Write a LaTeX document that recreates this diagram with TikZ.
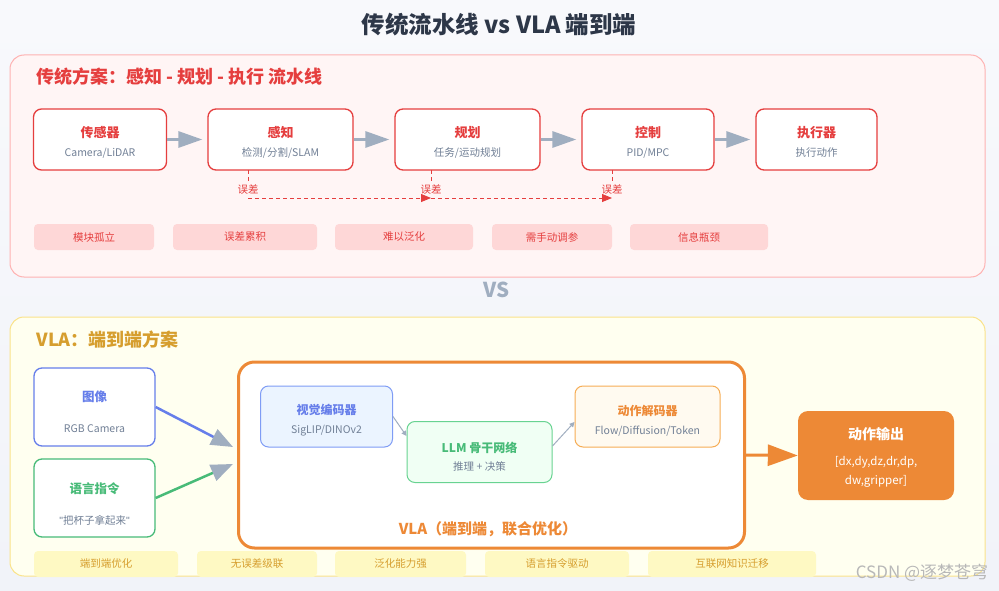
\documentclass[tikz,border=0pt]{standalone}
\usepackage{fontspec}
\setmainfont{Noto Sans CJK SC}
\newfontfamily\quotefont{Liberation Sans}
\usetikzlibrary{arrows.meta}
\definecolor{bgtop}{HTML}{F8F9FC}
\definecolor{bgbot}{HTML}{F1F3F9}
\definecolor{titlegrey}{HTML}{2D3748}
\definecolor{subgrey}{HTML}{718096}
\definecolor{arrowgrey}{HTML}{A0AEC0}
\definecolor{tradred}{HTML}{E53E3E}
\definecolor{tradfill}{HTML}{FFF5F5}
\definecolor{tradborder}{HTML}{FEB2B2}
\definecolor{tagpink}{HTML}{FED7D7}
\definecolor{vlafill}{HTML}{FFFFF0}
\definecolor{vlaborder}{HTML}{FAE38A}
\definecolor{taggold}{HTML}{FEF9C3}
\definecolor{goldtext}{HTML}{D69E2E}
\definecolor{imgblue}{HTML}{667EEA}
\definecolor{encfill}{HTML}{EBF4FF}
\definecolor{encborder}{HTML}{7F9CF5}
\definecolor{langgreen}{HTML}{48BB78}
\definecolor{llmfill}{HTML}{F0FFF4}
\definecolor{llmborder}{HTML}{68D391}
\definecolor{vlaorange}{HTML}{ED8936}
\definecolor{decfill}{HTML}{FFFAF0}
\definecolor{decborder}{HTML}{F6AD55}
% strut that pushes a two-line block down
\newcommand{\topstrut}[1]{\rule{0pt}{#1}}

\begin{document}
\begin{tikzpicture}[x=1pt,y=-1pt]
  \tikzstyle{stage}=[draw=tradred,line width=1.3pt,fill=white,rounded corners=8pt,
                     minimum height=61pt,align=center,inner sep=0pt,text=tradred,
                     font=\fontsize{10.5}{19}\selectfont]
  \tikzstyle{tradtag}=[fill=tagpink,rounded corners=4pt,minimum height=26pt,inner sep=0pt,
                       text=tradred,font=\fontsize{10.5}{12}\selectfont]
  \tikzstyle{vlatag}=[fill=taggold,rounded corners=4pt,minimum height=26pt,inner sep=0pt,
                      text=goldtext,font=\fontsize{10.5}{12}\selectfont]
  \tikzstyle{inbox}=[line width=1.3pt,fill=white,rounded corners=8pt,minimum width=121pt,
                     minimum height=78pt,align=center,inner sep=0pt,font=\fontsize{10.5}{31}\selectfont]
  \tikzstyle{module}=[line width=1pt,rounded corners=8pt,minimum height=61pt,align=center,
                      inner sep=0pt,font=\fontsize{10.5}{18.5}\selectfont]
  \tikzstyle{flowarrow}=[draw=arrowgrey,line width=3pt,-{Triangle[length=24pt,width=16pt]},shorten >=5pt]
  \tikzstyle{errline}=[draw=tradred,line width=1pt,dash pattern=on 4pt off 3pt]
  \tikzstyle{errlabel}=[text=tradred,font=\fontsize{10.5}{12}\selectfont,inner sep=1pt]
  \tikzstyle{thinarrow}=[draw=arrowgrey,line width=1pt,-{Triangle[length=5pt,width=5pt]}]
  \useasboundingbox (0,0) rectangle (999,591);
  \shade[top color=bgtop,bottom color=bgbot] (0,0) rectangle (999,591);
  % title
  \node[text=titlegrey,font=\fontsize{23.5}{26}\selectfont\bfseries] (title) at (499,25) {传统流水线 vs VLA 端到端};
  % traditional pipeline
  \draw[draw=tradborder,fill=tradfill,line width=1pt,rounded corners=14pt] (10,55) rectangle (985,277);
  \node[anchor=west,text=tradred,font=\fontsize{18}{21}\selectfont\bfseries] (tradtitle) at (33,77) {传统方案：感知 - 规划 - 执行 流水线};
  \node[stage,minimum width=133pt] (sensor) at (100,139.5) {{\fontsize{13}{19}\selectfont\bfseries\topstrut{16.5pt}传感器}\\{\color{subgrey}Camera/LiDAR}};
  \node[stage,minimum width=145pt] (perception) at (280.5,139.5) {{\fontsize{13}{19}\selectfont\bfseries\topstrut{16.5pt}感知}\\{\color{subgrey}检测/分割/SLAM}};
  \node[stage,minimum width=145pt] (planning) at (467.5,139.5) {{\fontsize{13}{19}\selectfont\bfseries\topstrut{16.5pt}规划}\\{\color{subgrey}任务/运动规划}};
  \node[stage,minimum width=132pt] (control) at (648,139.5) {{\fontsize{13}{19}\selectfont\bfseries\topstrut{16.5pt}控制}\\{\color{subgrey}PID/MPC}};
  \node[stage,minimum width=121pt] (actuator) at (816.5,139.5) {{\fontsize{13}{19}\selectfont\bfseries\topstrut{16.5pt}执行器}\\{\color{subgrey}执行动作}};
  \draw[flowarrow] (sensor) -- (perception);
  \draw[flowarrow] (perception) -- (planning);
  \draw[flowarrow] (planning) -- (control);
  \draw[flowarrow] (control) -- (actuator);
  % error propagation
  \node[errlabel] (err1) at (248,190) {误差};
  \node[errlabel] (err2) at (431,190) {误差};
  \node[errlabel] (err3) at (612,190) {误差};
  \coordinate (errtop1) at (248,170);
  \coordinate (errtop2) at (431,170);
  \coordinate (errtop3) at (612,170);
  \coordinate (errbase1) at (248,198);
  \coordinate (errbase2) at (431,198);
  \coordinate (errbase3) at (612,198);
  \draw[errline] (errtop1) -- (err1.north);
  \draw[errline] (errtop2) -- (err2.north);
  \draw[errline] (errtop3) -- (err3.north);
  \draw[errline,-{Triangle[length=10pt,width=8pt]}] (errbase1) -- (errbase2);
  \draw[errline,-{Triangle[length=10pt,width=8pt]}] (errbase2) -- (errbase3);
  % drawbacks
  \node[tradtag,minimum width=120pt] (isolated) at (94,237) {模块孤立};
  \node[tradtag,minimum width=144pt] (accumulate) at (245,237) {误差累积};
  \node[tradtag,minimum width=138pt] (general) at (404,237) {难以泛化};
  \node[tradtag,minimum width=120pt] (tuning) at (552,237) {需手动调参};
  \node[tradtag,minimum width=138pt] (bottleneck) at (699,237) {信息瓶颈};
  \node[text=arrowgrey,font=\fontsize{20.5}{23}\selectfont\bfseries] (versus) at (497,290) {VS};
  % VLA end to end
  \draw[draw=vlaborder,fill=vlafill,line width=1pt,rounded corners=14pt] (10,317) rectangle (985,576);
  \node[anchor=west,text=goldtext,font=\fontsize{18}{21}\selectfont\bfseries] (vlatitle) at (33,340) {VLA：端到端方案};
  \node[inbox,draw=imgblue] (image) at (94.5,407) {{\fontsize{12.5}{31}\selectfont\bfseries\color{imgblue}\topstrut{21pt}图像}\\{\color{subgrey}RGB Camera}};
  \node[inbox,draw=langgreen] (language) at (94.5,498) {{\fontsize{12.5}{31}\selectfont\bfseries\color{langgreen}\topstrut{23.5pt}语言指令}\\{\color{subgrey}{\quotefont"}把杯子拿起来{\quotefont"}}};
  \node[draw=vlaorange,line width=3pt,fill=white,rounded corners=16pt,minimum width=506pt,
        minimum height=186pt] (vla) at (491.5,455) {};
  \node[module,draw=encborder,fill=encfill,minimum width=132pt] (encoder) at (326.5,416.5) {{\fontsize{12}{18.5}\selectfont\bfseries\color{imgblue}\topstrut{18pt}视觉编码器}\\{\color{subgrey}SigLIP/DINOv2}};
  \node[module,draw=llmborder,fill=llmfill,minimum width=145pt] (llm) at (479.5,452) {{\fontsize{12}{18.5}\selectfont\bfseries\color{langgreen}\topstrut{19.5pt}LLM 骨干网络}\\{\color{subgrey}推理 + 决策}};
  \node[module,draw=decborder,fill=decfill,minimum width=145pt] (decoder) at (647.5,416.5) {{\fontsize{12}{18.5}\selectfont\bfseries\color{vlaorange}\topstrut{18.5pt}动作解码器}\\{\color{subgrey}Flow/Diffusion/Token}};
  \node[text=vlaorange,font=\fontsize{15}{18}\selectfont\bfseries] (vlalabel) at (488,529) {VLA（端到端，联合优化）};
  \coordinate (imagein) at (233,447);
  \coordinate (langin) at (233,464);
  \draw[draw=imgblue,line width=2.5pt,-{Triangle[length=22pt,width=17pt,color=arrowgrey]}] (image.east) -- (imagein);
  \draw[draw=langgreen,line width=2.5pt,-{Triangle[length=22pt,width=17pt,color=arrowgrey]}] (language.east) -- (langin);
  \draw[thinarrow] (encoder.east) -- ([yshift=-15pt]llm.north west);
  \draw[thinarrow] ([yshift=6pt]llm.east) -- ([yshift=-5.5pt]decoder.west);
  % action output
  \node[fill=vlaorange,rounded corners=10pt,minimum width=156pt,minimum height=89pt,align=center,
        inner sep=0pt,text=white,font=\fontsize{11.5}{19}\selectfont] (output) at (876,455.5)
        {{\fontsize{14}{19}\selectfont\bfseries\topstrut{16pt}动作输出}\\[7pt][dx,dy,dz,dr,dp,\\dw,gripper]};
  \draw[draw=vlaorange,line width=3pt,-{Triangle[length=30pt,width=21pt]}] (vla.east) -- (output.west);
  % advantages
  \node[vlatag,minimum width=144pt] (jointopt) at (106,564) {端到端优化};
  \node[vlatag,minimum width=120pt] (nocascade) at (257,564) {无误差级联};
  \node[vlatag,minimum width=131pt] (strong) at (400.5,564) {泛化能力强};
  \node[vlatag,minimum width=144pt] (langdrive) at (557,564) {语言指令驱动};
  \node[vlatag,minimum width=168pt] (transfer) at (732,564) {互联网知识迁移};
  \node[text=black!28,font=\fontsize{17}{19}\selectfont] (watermark) at (922,573) {CSDN @逐梦苍穹};
\end{tikzpicture}
\end{document}
